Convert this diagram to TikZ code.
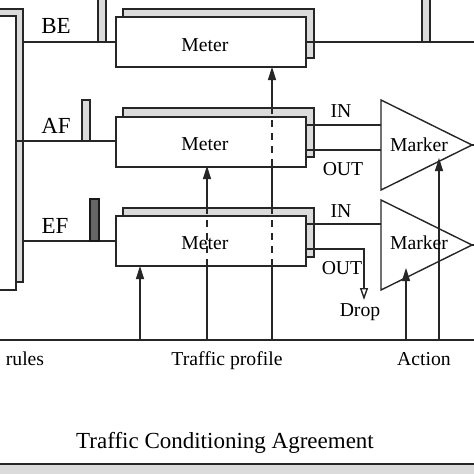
\documentclass[tikz,border=0pt]{standalone}
\usepackage{fontspec}
\setmainfont{Liberation Serif}
\usetikzlibrary{arrows.meta}
\begin{document}
\begin{tikzpicture}[x=1pt,y=-1pt,
  ln/.style={line width=1.4pt, draw=black!85},
  shadebox/.style={fill=black!14, draw=black!85, line width=1.4pt},
  frontbox/.style={fill=white, draw=black!85, line width=1.4pt},
  meterbox/.style={frontbox, rectangle, minimum width=190pt, minimum height=50pt, anchor=north west, inner sep=0pt, outer sep=0pt},
  pkt/.style={fill=black!14, draw=black!85, line width=1.1pt},
  dpkt/.style={fill=black!60, draw=black!90, line width=1.1pt},
  lbl/.style={anchor=base, inner sep=0pt, font=\fontsize{19.7}{22}\selectfont},
  biglbl/.style={anchor=base, inner sep=0pt, font=\fontsize{23}{26}\selectfont},
  arr/.style={ln, -{Triangle[length=13pt,width=8pt]}},
  openarr/.style={ln, -{Triangle[open,length=12pt,width=8pt]}},
  darr/.style={ln, dash pattern=on 7pt off 6pt},
  ]
\clip (0,0) rectangle (474,474);
\fill[white] (0,0) rectangle (474,474);

% left classifier box
\draw[shadebox] (-20,9) rectangle (23,282);
\draw[frontbox] (-20,16) rectangle (16,290);
\coordinate (cbe) at (23,42);
\coordinate (caf) at (16,141);
\coordinate (cef) at (23,241);

% meter boxes with shadows
\draw[shadebox] (123,9) rectangle (314,58);
\node[meterbox] (m1) at (116,17) {};
\draw[shadebox] (123,108) rectangle (314,157);
\node[meterbox] (m2) at (116,117) {};
\draw[shadebox] (123,208) rectangle (314,257);
\node[meterbox] (m3) at (116,216) {};

% markers
\coordinate (k1a) at (381,100); \coordinate (k1b) at (381,190); \coordinate (k1c) at (472,145);
\coordinate (k2a) at (381,200); \coordinate (k2b) at (381,290); \coordinate (k2c) at (472,245);
\draw[frontbox] (k1a) -- (k1b) -- (k1c) -- cycle;
\draw[frontbox] (k2a) -- (k2b) -- (k2c) -- cycle;
\draw[ln] (k1c) -- ++(6,0);
\draw[ln] (k2c) -- ++(6,0);

% class lines into meters
\draw[ln] (cbe) -- (m1.west |- cbe);
\draw[ln] (caf) -- (m2.west |- caf);
\draw[ln] (cef) -- (m3.west |- cef);

% packets
\draw[pkt] (98,-5) rectangle (106,42);
\draw[pkt] (82,100) rectangle (90,141);
\draw[dpkt] (90,199) rectangle (99,241);
\coordinate (o1) at (306,42);
\coordinate (o1e) at (480,42);
\draw[ln] (o1) -- (o1e);
\draw[pkt] (422,-5) rectangle (430,42);

% meter outputs
\coordinate (m2in) at (306,125);
\coordinate (m2out) at (306,150);
\coordinate (m3in) at (306,224);
\coordinate (m3out) at (306,249);
\coordinate (dropc) at (364,249);
\coordinate (dropt) at (364,300);
\draw[ln] (m2in) -- (m2in -| k1a);
\draw[ln] (m2out) -- (m2out -| k1a);
\draw[ln] (m3in) -- (m3in -| k2a);
\draw[openarr] (m3out) -- (dropc) -- (dropt);

% baseline
\coordinate (bl) at (-5,340);
\coordinate (br) at (480,340);
\draw[ln] (bl) -- (br);

% vertical arrows
\coordinate (v1b) at (140,340); \coordinate (v1t) at (140,266);
\draw[arr] (v1b) -- (v1t);
\coordinate (v2b) at (207,340);
\draw[ln] (v2b) -- (207,266);
\draw[darr] (207,266) -- (207,208);
\draw[arr] (207,208) -- (207,166);
\coordinate (v3b) at (272,340);
\draw[ln] (v3b) -- (272,266);
\draw[darr] (272,266) -- (272,208);
\draw[ln] (272,208) -- (272,166);
\draw[darr] (272,166) -- (272,108);
\draw[arr] (272,108) -- (272,67);
\coordinate (v4b) at (406,340); \coordinate (v4t) at (406,268);
\draw[arr] (v4b) -- (v4t);
\coordinate (v5b) at (439,340); \coordinate (v5t) at (439,158);
\draw[arr] (v5b) -- (v5t);

% labels
\node[biglbl] (tbe) at (56,33) {BE};
\node[biglbl] (taf) at (56,133) {AF};
\node[biglbl] (tef) at (55,233) {EF};
\node[lbl] (tm1) at (205,51) {Meter};
\node[lbl] (tm2) at (205,150) {Meter};
\node[lbl] (tm3) at (205,249) {Meter};
\node[lbl] (tin1) at (341,117) {IN};
\node[lbl] (tout1) at (343,175) {OUT};
\node[lbl] (tin2) at (341,217) {IN};
\node[lbl] (tout2) at (342,274) {OUT};
\node[lbl] (tk1) at (419,151) {Marker};
\node[lbl] (tk2) at (419,249) {Marker};
\node[lbl] (tdrop) at (360,316) {Drop};
\node[lbl] (trules) at (25,365) {rules};
\node[lbl] (tprof) at (227,365) {Traffic profile};
\node[lbl] (tact) at (424,365) {Action};
\node[biglbl] (ttca) at (225,448) {Traffic Conditioning Agreement};

% bottom band
\draw[shadebox] (-5,464) rectangle (480,490);
\end{tikzpicture}
\end{document}
